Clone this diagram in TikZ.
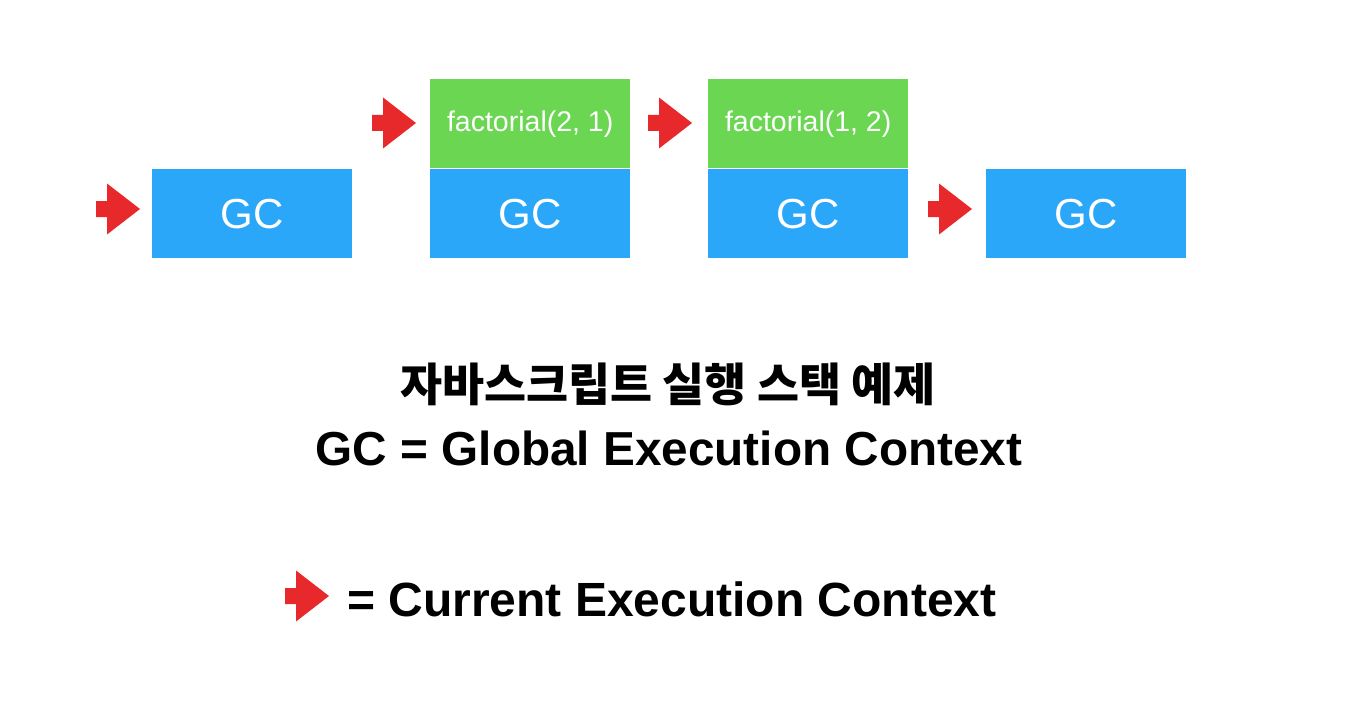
\documentclass[tikz,border=0pt]{standalone}
\usepackage{fontspec}
\setmainfont{Liberation Sans}
\newfontfamily\krfont{Noto Sans CJK KR}
\definecolor{gcblue}{RGB}{43,167,250}
\definecolor{fgreen}{RGB}{106,214,81}
\definecolor{arrowred}{RGB}{232,41,43}
\newcommand{\lowered}[1]{\raisebox{-2pt}{#1}}
\begin{document}
\begin{tikzpicture}[x=1pt,y=-1pt,
  stackbox/.style={rectangle, inner sep=0pt, minimum width=200pt, minimum height=89pt, anchor=north west, text=white},
  gcbox/.style={stackbox, fill=gcblue, font=\fontsize{42}{48}\selectfont},
  fnbox/.style={stackbox, fill=fgreen, font=\fontsize{28.5}{32}\selectfont},
  curarrow/.pic={\fill[arrowred] (0,-8) -- (11,-8) -- (11,-25.5) -- (44,0) -- (11,25.5) -- (11,8) -- (0,8) -- cycle;},
  bigtext/.style={inner sep=0pt, font=\bfseries\fontsize{47.7}{56}\selectfont}
]
\useasboundingbox (0,0) rectangle (1350,706);
% stacks
\node[gcbox] (gc1) at (152,169) {\lowered{GC}};
\node[fnbox] (f2) at (430,79) {\lowered{factorial(2, 1)}};
\node[gcbox] (gc2) at (430,169) {\lowered{GC}};
\node[fnbox] (f3) at (708,79) {\lowered{factorial(1, 2)}};
\node[gcbox] (gc3) at (708,169) {\lowered{GC}};
\node[gcbox] (gc4) at (986,169) {\lowered{GC}};
% current-context markers
\pic at (96,209) {curarrow};
\pic at (372,123) {curarrow};
\pic at (648,123) {curarrow};
\pic at (928,209) {curarrow};
\pic at (285,596) {curarrow};
% texts
\node[inner sep=0pt, anchor=base, font=\krfont\bfseries\fontsize{45.7}{52}\selectfont] (title) at (668,401) {자바스크립트 실행 스택 예제};
\node[bigtext, anchor=base] (gcdef) at (669,465) {GC = Global Execution Context};
\node[bigtext, anchor=base west, font=\bfseries\fontsize{48}{56}\selectfont] (legend) at (347,616) {= Current Execution Context};
\end{tikzpicture}
\end{document}
